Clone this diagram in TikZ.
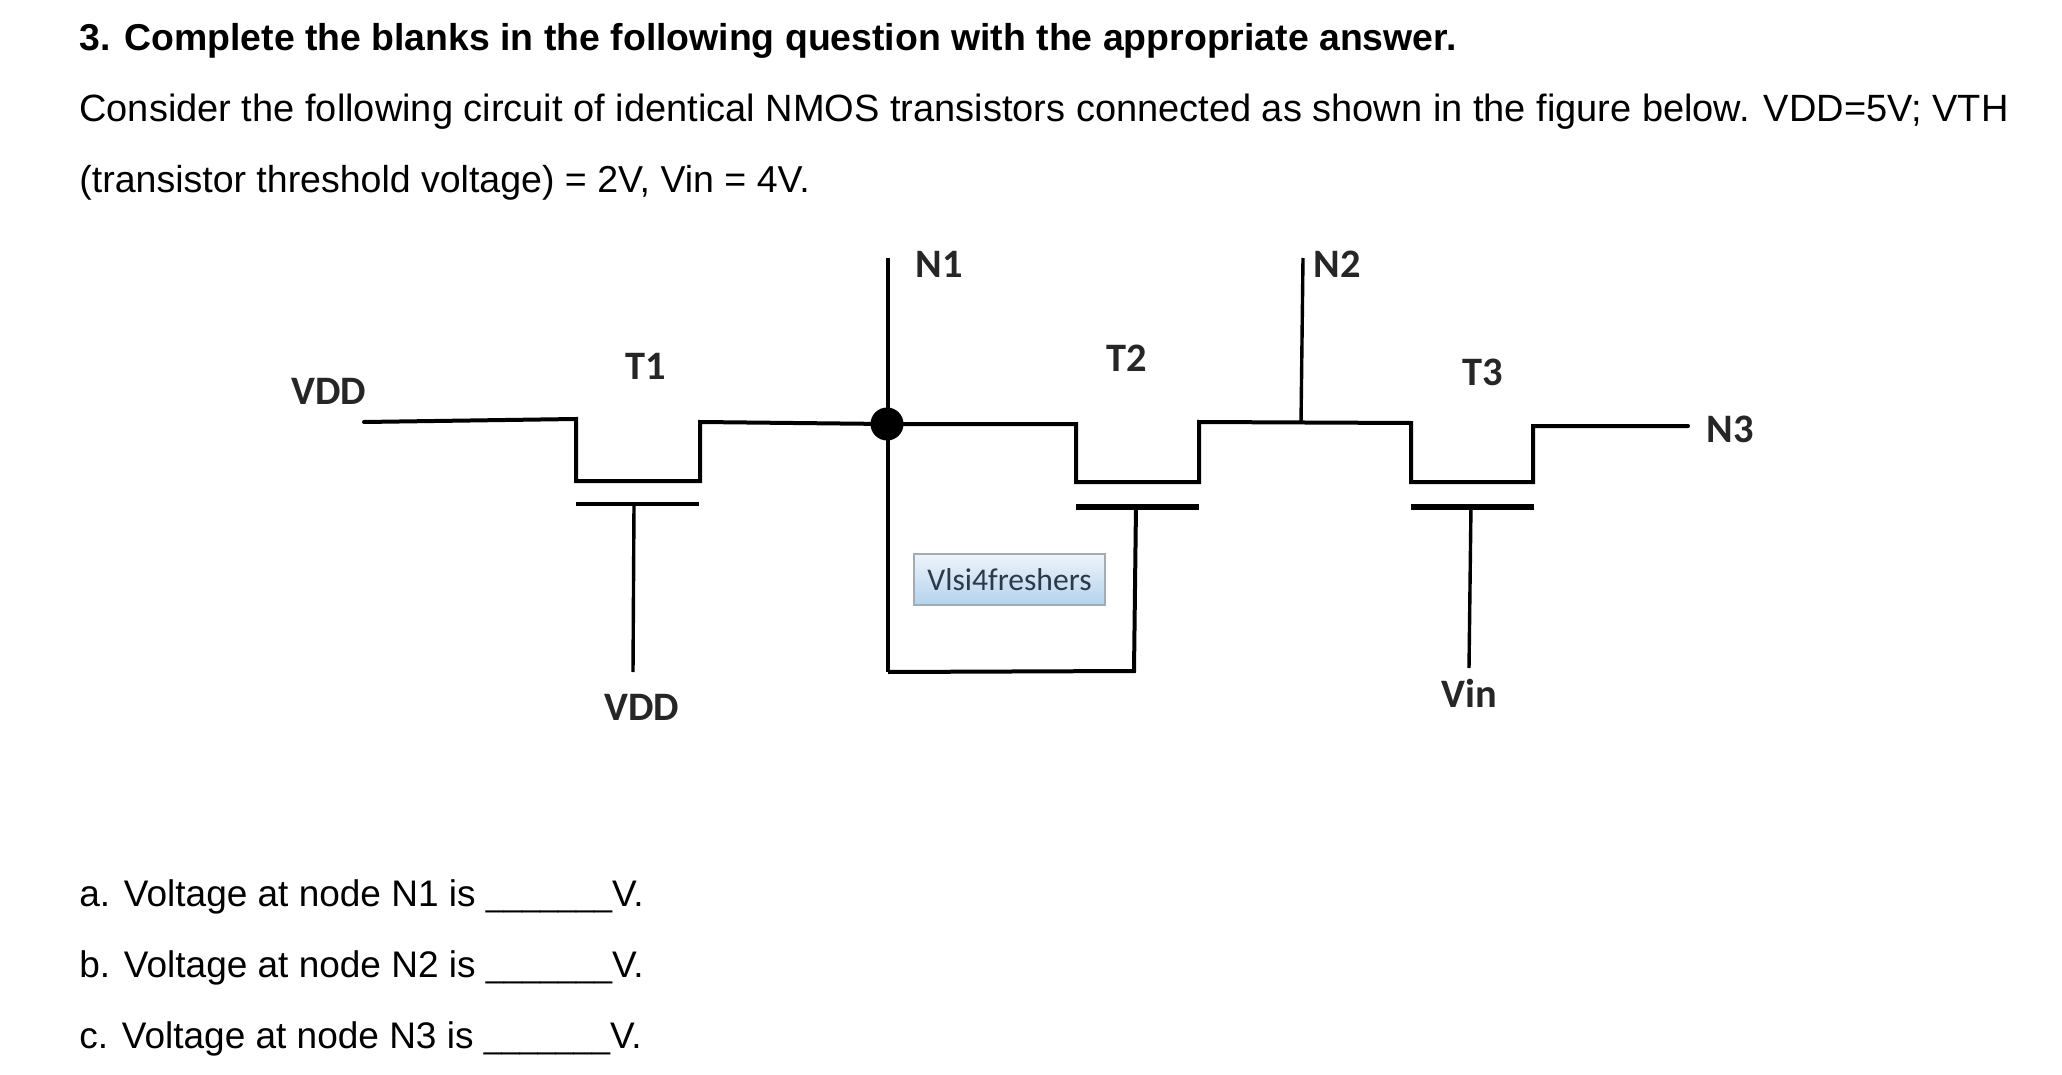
\documentclass[tikz,border=0pt]{standalone}
\usepackage{fontspec}
\setmainfont{Liberation Sans}
\newfontfamily\figfont{Carlito}
\definecolor{boxtop}{HTML}{EEF4FB}
\definecolor{boxbot}{HTML}{B4D2EE}
\definecolor{boxline}{HTML}{A3ABB3}
\definecolor{boxtext}{HTML}{2B3A48}
\newcommand{\blanks}{{\fontsize{16.2pt}{20pt}\selectfont\_\_\_\_\_\_\_}}
\tikzset{
  para/.style={anchor=base west,inner sep=0pt,font=\fontsize{18.75pt}{22pt}\selectfont},
  paraQ/.style={para,font=\fontsize{18.5pt}{22pt}\selectfont},
  paraL/.style={para,font=\fontsize{19pt}{22pt}\selectfont},
  paraB/.style={para,font=\fontsize{18.7pt}{22pt}\selectfont\bfseries},
  lab/.style={inner sep=0pt,font=\figfont\bfseries\fontsize{20.2pt}{22pt}\selectfont,text=black!85},
  wire/.style={draw=black,line width=2pt,line cap=round,line join=miter},
  stem/.style={draw=black,line width=1.7pt,line cap=butt},
  gatethin/.style={draw=black,line width=1.9pt,line cap=butt},
  gatethick/.style={draw=black,line width=2.7pt,line cap=butt},
  dotnode/.style={circle,fill=black,inner sep=0pt,minimum size=16.5pt}
}
\begin{document}
\begin{tikzpicture}[x=0.5pt,y=-0.5pt]
\useasboundingbox[fill=white] (0,0) rectangle (2062,1075);
% text
\node[paraB] (h) at (79,50.5) {3. Complete the blanks in the following question with the appropriate answer.};
\node[paraL] (l1) at (79,121.5) {Consider the following circuit of identical NMOS transistors connected as shown in the figure below. VDD=5V; VTH};
\node[para] (l2) at (79,192.5) {(transistor threshold voltage) = 2V, Vin = 4V.};
\node[paraQ] (qa) at (79,906.5) {a. Voltage at node N1 is \blanks V.};
\node[paraQ] (qb) at (79,977.5) {b. Voltage at node N2 is \blanks V.};
\node[paraQ] (qc) at (79,1048.5) {c. Voltage at node N3 is \blanks V.};
% watermark box
\node[draw=boxline,line width=0.9pt,top color=boxtop,bottom color=boxbot,minimum width=95.5pt,minimum height=25.5pt,inner sep=0pt,text=boxtext,font=\figfont\fontsize{15.8pt}{18pt}\selectfont] (wm) at (1009.5,579.5) {Vlsi4freshers};
% junction
\node[dotnode] (j1) at (887,424) {};
% labels
\node[lab] (vdd1) at (329,391) {VDD};
\node[lab] (t1) at (646,366) {T1};
\node[lab] (vdd2) at (642,707) {VDD};
\node[lab] (n1) at (939,264) {N1};
\node[lab] (t2) at (1127,358) {T2};
\node[lab] (n2) at (1337,264) {N2};
\node[lab] (t3) at (1483,372) {T3};
\node[lab] (n3) at (1730,429) {N3};
\node[lab] (vin) at (1469,693) {Vin};
% named points
\coordinate (a0) at (364,422);
\coordinate (n1top) at (888,258);
\coordinate (n1bot) at (888,672);
\coordinate (n2top) at (1303,258);
\coordinate (n2j) at (1301,423);
\coordinate (g1l) at (576,504); \coordinate (g1r) at (699,504);
\coordinate (g2l) at (1076,507); \coordinate (g2r) at (1199,507);
\coordinate (g3l) at (1411,507); \coordinate (g3r) at (1534,507);
\coordinate (s1a) at (634,504); \coordinate (s1b) at (633,672);
\coordinate (s2a) at (1136,505); \coordinate (s2b) at (1134,671);
\coordinate (s3a) at (1471,505); \coordinate (s3b) at (1469,668);
\coordinate (n3e) at (1688,426);
% wires
\draw[wire] (a0) -- (576,419) -- (576,481) -- (700,481) -- (700,422) -- (j1.center);
\draw[wire] (j1.center) -- (1076,424) -- (1076,482) -- (1199,482) -- (1199,422) -- (1411,423) -- (1411,482) -- (1533,482) -- (1533,426) -- (n3e);
\draw[stem] (n1top) -- (888,424) -- (n1bot);
\draw[stem] (n2top) -- (n2j);
\draw[gatethin] (g1l) -- (g1r);
\draw[gatethick] (g2l) -- (g2r);
\draw[gatethick] (g3l) -- (g3r);
\draw[stem] (s1a) -- (s1b);
\draw[wire,line cap=butt] (n1bot) -- (s2b) -- (s2a);
\draw[stem] (s3a) -- (s3b);
\end{tikzpicture}
\end{document}
